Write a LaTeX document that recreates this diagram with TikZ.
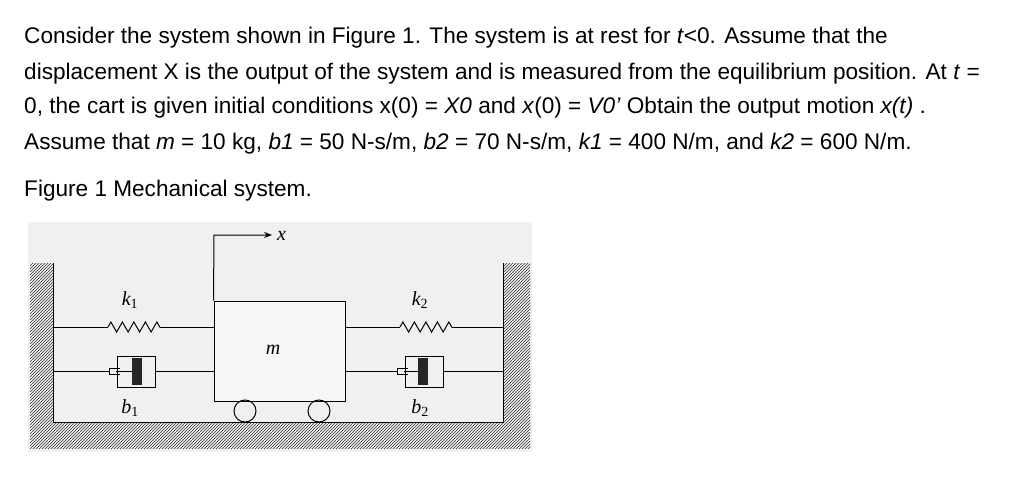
\documentclass[tikz,border=0pt]{standalone}
\usepackage{fontspec}
\setmainfont{Liberation Sans}
\newfontfamily\serf{Liberation Serif}
\usetikzlibrary{patterns,decorations.pathmorphing,arrows.meta}
\begin{document}
\begin{tikzpicture}[x=1pt,y=-1pt,
  txt/.style={anchor=base west,inner sep=0pt,font=\fontsize{22.6}{26}\selectfont},
  lab/.style={inner sep=0pt,font=\serf\itshape\fontsize{20}{22}\selectfont},
  ln/.style={line width=1pt,black},
  hatch/.style={pattern=north east lines,pattern color=black!80}]
\useasboundingbox (0,0) rectangle (1024,494);
\fill[white] (0,0) rectangle (1024,494);
\node[txt] (l1) at (24,44) {Consider the system shown in Figure 1. The system is at rest for \textit{t}<0. Assume that the};
\node[txt] (l2) at (24,80) {displacement X is the output of the system and is measured from the equilibrium position. At \textit{t} =};
\node[txt] (l3) at (24,114) {0, the cart is given initial conditions x(0) = \textit{X0} and \textit{x}(0) = \textit{V0'} Obtain the output motion \textit{x(t)} .};
\node[txt] (l4) at (24,150) {Assume that \textit{m} = 10 kg, \textit{b1} = 50 N-s/m, \textit{b2} = 70 N-s/m, \textit{k1} = 400 N/m, and \textit{k2} = 600 N/m.};
\node[txt] (l5) at (24,197) {Figure 1 Mechanical system.};
% figure background
\fill[black!6] (28,222) rectangle (532,452);
% walls and floor
\fill[hatch] (30,263) rectangle (53,448);
\fill[hatch] (503,263) rectangle (530,448);
\fill[hatch] (53,422) rectangle (503,448);
\draw[ln] (53,263) -- (53,422) -- (503,422) -- (503,263);
% mass
\node[draw,line width=1pt,minimum width=131pt,minimum height=100pt,inner sep=0pt,fill=black!3] (m) at (279.5,351) {};
\node[lab] (ml) at (273,350) {m};
\draw[ln] (245,411) circle (11);
\draw[ln] (319,411) circle (11);
% x arrow
\coordinate (xa) at (214,235);
\coordinate (xb) at (272,235);
\draw[ln,-{Stealth[length=8pt]}] (m.north west) -- (xa) -- (xb);
\node[lab,anchor=west] (xl) at (277,236) {x};
% springs
\coordinate (s1a) at (108,327); \coordinate (s1b) at (160,327);
\coordinate (s2a) at (400,327); \coordinate (s2b) at (452,327);
\draw[ln] (53,327) -- (s1a);
\draw[ln,decorate,decoration={zigzag,segment length=11.5pt,amplitude=5pt}] (s1a) -- (s1b);
\draw[ln] (s1b) -- (214,327);
\draw[ln] (345,327) -- (s2a);
\draw[ln,decorate,decoration={zigzag,segment length=11.5pt,amplitude=5pt}] (s2a) -- (s2b);
\draw[ln] (s2b) -- (503,327);
\node[lab] (k1) at (130,300) {k\textsubscript{\upshape 1}};
\node[lab] (k2) at (420,300) {k\textsubscript{\upshape 2}};
% dampers
\foreach \bx/\px in {117/132,405/418}{
  \draw[ln] (\bx,356) -- (\bx+38,356) -- (\bx+38,387) -- (\bx,387) -- cycle;
  \fill[black!85] (\px,358) rectangle (\px+10,385);
  \draw[ln] (\bx-8,368) -- (\bx+3,368) (\bx-8,374) -- (\bx+3,374) (\bx-8,368)--(\bx-8,374);
  \draw[ln] (\px,371) -- (\bx-1,371);
}
\draw[ln] (53,371) -- (109,371);
\draw[ln] (155,371) -- (214,371);
\draw[ln] (345,371) -- (397,371);
\draw[ln] (443,371) -- (503,371);
\node[lab] (b1) at (130,408) {b\textsubscript{\upshape 1}};
\node[lab] (b2) at (420,408) {b\textsubscript{\upshape 2}};
\end{tikzpicture}
\end{document}
